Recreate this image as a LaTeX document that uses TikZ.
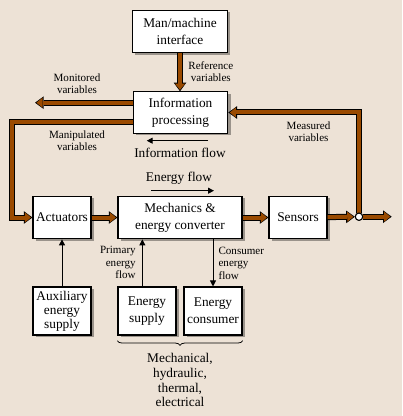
\documentclass[tikz,border=0pt]{standalone}
\usepackage{fontspec}
\setmainfont{Liberation Serif}
\usetikzlibrary{arrows.meta,shadows,decorations.pathreplacing}
\definecolor{bg}{HTML}{EDE2D6}
\definecolor{pipebrown}{HTML}{9A4A00}
\tikzset{>=Stealth}
\tikzset{
  box/.style={draw, fill=white, line width=0.8pt, align=center, inner sep=0pt,
    font=\fontsize{10}{12.5}\selectfont,
    drop shadow={shadow xshift=2pt, shadow yshift=-1.5pt, fill=black, opacity=0.35}},
  lbl/.style={align=center, inner sep=0pt, font=\fontsize{8.3}{9}\selectfont},
  pipe/.style={line width=3pt, draw=pipebrown, shorten >=1.1pt,
    -{Triangle[length=4.6pt,width=7.5pt,line width=0pt]},
    preaction={draw=black, line width=4.5pt, shorten >=0pt,
      -{Triangle[length=6.5pt,width=9.5pt,line width=0pt]}}},
  sig/.style={line width=0.75pt, -{Triangle[length=4.5pt,width=4.5pt]}},
}
\begin{document}
\begin{tikzpicture}[x=0.75pt,y=-0.75pt]
\fill[bg] (0,0) rectangle (402,416);
\useasboundingbox (0,0) rectangle (402,416);

% boxes
\node[box, minimum width=71pt, minimum height=32pt] (mmi) at (180,31.5) {Man/machine\\interface};
\node[box, minimum width=71pt, minimum height=31pt] (info) at (180.5,112.5) {Information\\processing};
\node[box, minimum width=43.5pt, minimum height=32pt] (act) at (62,217.5) {Actuators};
\node[box, minimum width=93pt, minimum height=32pt] (mech) at (180,217.5) {Mechanics \&\\energy converter};
\node[box, minimum width=43.5pt, minimum height=32pt] (sens) at (298,217.5) {Sensors};
\node[box, minimum width=43.5pt, minimum height=36pt, font=\fontsize{10}{10.5}\selectfont] (aux) at (62,311) {Auxiliary\\energy\\supply};
\node[box, minimum width=43.5pt, minimum height=36pt] (esup) at (147,311) {Energy\\supply};
\node[box, minimum width=43.5pt, minimum height=36pt] (econ) at (213,311) {Energy\\consumer};
\node[draw, circle, fill=white, inner sep=0pt, minimum size=5.5pt, line width=0.75pt] (jn) at (359,216.7) {};

% free ends
\coordinate (mon) at (35,102.7);
\coordinate (man) at (11.7,121.7);
\coordinate (out) at (391.7,216.7);

% energy and signal pipes
\draw[pipe] (mmi.south) -- (mmi.south |- info.north);
\draw[pipe] (info.west |- mon) -- (mon);
\draw[pipe] (info.west |- man) -- (man) |- (act.west);
\draw[pipe] (act) -- (mech);
\draw[pipe] (mech) -- (sens);
\draw[pipe] (sens) -- (jn);
\draw[pipe] (jn) -- (out);
\draw[pipe] (jn.north) |- (info.east);
\node[draw, circle, fill=white, inner sep=0pt, minimum size=5.5pt, line width=0.75pt] at (jn) {};

% thin arrows
\coordinate (pe) at ([xshift=-3.5pt]esup.north);
\draw[sig] (aux.north) -- (act.south);
\draw[sig] (pe) -- (pe |- mech.south);
\draw[sig] (econ.north |- mech.south) -- (econ.north);

% flow directions
\coordinate (if1) at (208,140.7);
\coordinate (if2) at (146.7,140.7);
\coordinate (ef1) at (151,190.7);
\coordinate (ef2) at (214,190.7);
\draw[sig] (if1) -- (if2);
\draw[sig] (ef1) -- (ef2);

% labels
\node[lbl] (refl) at (210.8,71.5) {Reference\\variables};
\node[lbl] (monl) at (77,83.3) {Monitored\\variables};
\node[lbl] (manl) at (77,141) {Manipulated\\variables};
\node[lbl] (measl) at (308.5,132) {Measured\\variables};
\node[inner sep=0pt] (ifl) at (180,152.7) {Information flow};
\node[inner sep=0pt] (efl) at (179,178.3) {Energy flow};
\node[lbl, anchor=east, align=right, font=\fontsize{8.3}{9.4}\selectfont] (pefl) at (136,262.8) {Primary\\energy\\flow};
\node[lbl, anchor=west, align=left, font=\fontsize{8.3}{9.4}\selectfont] (cefl) at (218.3,263) {Consumer\\energy\\flow};

% brace
\coordinate (br1) at (117.3,340.7);
\coordinate (br2) at (242.7,340.7);
\draw[line width=0.6pt, decorate, decoration={brace, mirror, amplitude=3.5pt}] (br1) -- (br2);
\node[align=center, inner sep=0pt, font=\fontsize{10}{11.2}\selectfont] (kinds) at (180,380) {Mechanical,\\hydraulic,\\thermal,\\electrical};
\end{tikzpicture}
\end{document}
